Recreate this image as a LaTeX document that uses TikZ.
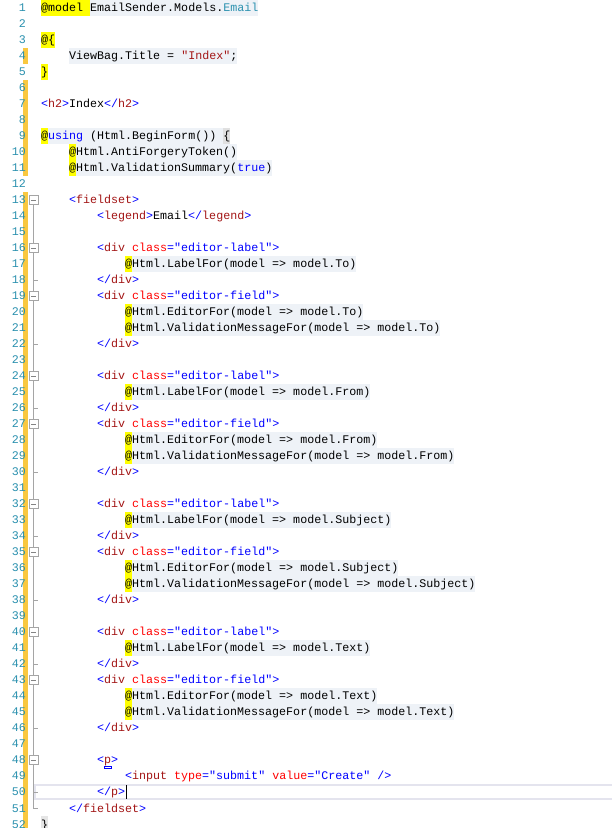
\documentclass[tikz,border=0pt]{standalone}
\usepackage{fontspec}
\setmonofont{Liberation Mono}
\definecolor{tblue}{HTML}{0000FF}
\definecolor{tmar}{HTML}{A31515}
\definecolor{tred}{HTML}{FF0000}
\definecolor{tteal}{HTML}{2B91AF}
\definecolor{ryel}{HTML}{FFFF00}
\definecolor{rbg}{HTML}{EEF2F7}
\definecolor{bar}{HTML}{F9C840}
\definecolor{fold}{HTML}{A5A5A5}
\definecolor{curl}{HTML}{E4E4EE}
\setlength{\fboxsep}{0pt}
\newcommand\sv{\rule[-4pt]{0pt}{16pt}}
\newcommand\Y[1]{\colorbox{ryel}{\sv#1}}
\newcommand\B[1]{\colorbox{rbg}{\sv#1}}
\newcommand\tg[1]{\textcolor{tblue}{#1}}
\newcommand\el[1]{\textcolor{tmar}{#1}}
\newcommand\at[1]{\textcolor{tred}{#1}}
\newcommand\divo[1]{\tg{<}\el{div} \at{class}\tg{="#1">}}
\newcommand\divc{\tg{</}\el{div}\tg{>}}
\newcommand\rz[1]{\Y{@}\B{#1}}
\begin{document}
\begin{tikzpicture}[x=1pt,y=1pt,
  L/.style={anchor=base west,inner sep=0pt,font=\ttfamily\fontsize{11.67}{14}\selectfont},
  N/.style={anchor=base east,inner sep=0pt,text=tteal,font=\ttfamily\fontsize{11.67}{14}\selectfont},
  fbox/.style={draw=fold,fill=white,line width=0.8pt,minimum size=9pt,inner sep=0pt}]
\useasboundingbox (0,0) rectangle (612,828);
\fill[white] (0,0) rectangle (612,828);
% change bars
\fill[bar] (23,{828-16*3}) rectangle (28,{828-16*4});
\fill[bar] (23,{828-16*5}) rectangle (28,{828-16*11});
\fill[bar] (23,{828-16*12}) rectangle (28,0);
% current line
\draw[curl,line width=1.5pt] (35,{828-16*49-1}) rectangle (613,{828-16*50+1});
% line numbers
\foreach \n in {1,...,52} \node[N] (n\n) at (26,{832-16*\n}) {\n};
% fold guide
\draw[fold,line width=0.8pt] (33.5,{828-16*12-8}) -- (33.5,{828-16*51+8}) -- (38,{828-16*51+8});
\foreach \e in {18,22,26,30,34,38,42,46,50}
  \draw[fold,line width=0.8pt] (33.5,{828-16*\e+8}) -- (38,{828-16*\e+8});
\foreach \s in {13,16,19,24,27,32,35,40,43,48}{
  \node[fbox] (f\s) at (33.5,{828-16*\s+8}) {};
  \draw[fold!80!black,line width=0.7pt] ([xshift=-2.3pt]f\s.center) -- ([xshift=2.3pt]f\s.center);}
% code
\newcommand\cl[3]{\node[L] (c#2) at ({41+7*#1},{832-16*#2}) {#3};}
\cl{0}{1}{\Y{@model\ }\B{EmailSender.Models.\textcolor{tteal}{Email}}}
\cl{0}{3}{\Y{@\{}}
\cl{4}{4}{\B{ViewBag.Title = \textcolor{tmar}{"Index"};}}
\cl{0}{5}{\Y{\}}}
\cl{0}{7}{\tg{<}\el{h2}\tg{>}Index\tg{</}\el{h2}\tg{>}}
\cl{0}{9}{\rz{\tg{using} (Html.BeginForm()) \colorbox{black!12}{\sv\{}}}
\cl{4}{10}{\rz{Html.AntiForgeryToken()}}
\cl{4}{11}{\rz{Html.ValidationSummary(\tg{true})}}
\cl{4}{13}{\tg{<}\el{fieldset}\tg{>}}
\cl{8}{14}{\tg{<}\el{legend}\tg{>}Email\tg{</}\el{legend}\tg{>}}
\cl{8}{16}{\divo{editor-label}}
\cl{12}{17}{\rz{Html.LabelFor(model => model.To)}}
\cl{8}{18}{\divc}
\cl{8}{19}{\divo{editor-field}}
\cl{12}{20}{\rz{Html.EditorFor(model => model.To)}}
\cl{12}{21}{\rz{Html.ValidationMessageFor(model => model.To)}}
\cl{8}{22}{\divc}
\cl{8}{24}{\divo{editor-label}}
\cl{12}{25}{\rz{Html.LabelFor(model => model.From)}}
\cl{8}{26}{\divc}
\cl{8}{27}{\divo{editor-field}}
\cl{12}{28}{\rz{Html.EditorFor(model => model.From)}}
\cl{12}{29}{\rz{Html.ValidationMessageFor(model => model.From)}}
\cl{8}{30}{\divc}
\cl{8}{32}{\divo{editor-label}}
\cl{12}{33}{\rz{Html.LabelFor(model => model.Subject)}}
\cl{8}{34}{\divc}
\cl{8}{35}{\divo{editor-field}}
\cl{12}{36}{\rz{Html.EditorFor(model => model.Subject)}}
\cl{12}{37}{\rz{Html.ValidationMessageFor(model => model.Subject)}}
\cl{8}{38}{\divc}
\cl{8}{40}{\divo{editor-label}}
\cl{12}{41}{\rz{Html.LabelFor(model => model.Text)}}
\cl{8}{42}{\divc}
\cl{8}{43}{\divo{editor-field}}
\cl{12}{44}{\rz{Html.EditorFor(model => model.Text)}}
\cl{12}{45}{\rz{Html.ValidationMessageFor(model => model.Text)}}
\cl{8}{46}{\divc}
\cl{8}{48}{\tg{<}\el{p}\tg{>}}
\cl{12}{49}{\tg{<}\el{input} \at{type}\tg{="submit"} \at{value}\tg{="Create" />}}
\cl{8}{50}{\tg{</}\el{p}\tg{>}}
\cl{4}{51}{\tg{</}\el{fieldset}\tg{>}}
\cl{0}{52}{\colorbox{black!10}{\sv\}}}
% brace-match marker under p
\draw[tblue,line width=0.7pt] ({41+7*9},{832-16*48-2.5}) rectangle ({41+7*10},{832-16*48-4.5});
% caret
\draw[black,line width=0.8pt] (c50.base east) ++(0.5,-3) -- ++(0,14);
\end{tikzpicture}
\end{document}
